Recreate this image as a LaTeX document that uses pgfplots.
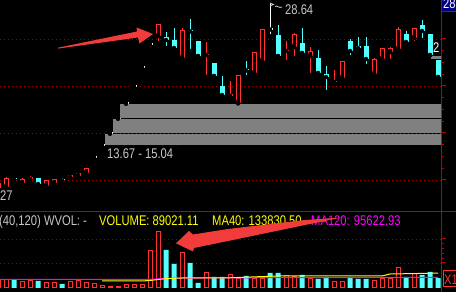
\documentclass[border=0pt]{standalone}
\usepackage{pgfplots}
\pgfplotsset{compat=1.18}
\usepackage{pgfplotstable}
\usepackage{fontspec}
\newfontfamily\cf[FakeStretch=0.8]{Liberation Sans}
\newcommand\tf{\cf\fontsize{14}{16}\selectfont}
\definecolor{cred}{HTML}{FF3232}
\definecolor{ccyan}{HTML}{54FFFF}
\definecolor{cgray}{HTML}{808080}
\definecolor{cdot}{HTML}{A00000}
\definecolor{caxis}{HTML}{C00000}
\definecolor{ctext}{HTML}{C8C8C8}
\definecolor{carrow}{HTML}{F23C3C}
\definecolor{cnavy}{HTML}{000080}
\definecolor{cyel}{HTML}{FFFF00}
\definecolor{cmag}{HTML}{FF00FF}

% price candles: k open high low close
\pgfplotstableread{
k o h l c
-1 10.14 10.74 10.04 10.64
0 10.24 11.24 10.14 11.14
2 10.64 11.14 10.60 11.04
5 10.34 10.98 10.24 10.94
6 10.64 11.08 10.60 11.04
9 11.34 11.68 11.24 11.64
10 11.64 12.18 11.60 12.14
19 25.34 26.58 24.64 26.54
22 23.14 26.14 23.10 25.94
29 18.64 21.48 18.60 21.44
31 21.64 23.78 21.24 23.74
32 22.84 26.08 22.80 26.04
36 24.24 25.64 23.14 25.54
38 23.34 24.24 21.44 23.84
42 21.14 22.88 20.94 22.84
46 21.54 23.14 21.24 23.04
47 23.04 24.18 22.64 24.14
48 23.74 24.24 22.84 24.14
49 24.04 26.24 23.74 26.04
51 25.14 26.18 24.64 26.14
}\redhollow
\pgfplotstableread{
k o h l c
3 11.04 11.34 11.04 11.24
8 11.24 11.48 11.14 11.44
25 23.44 24.74 21.24 23.58
28 19.34 20.84 19.30 19.54
35 23.84 24.84 22.74 23.98
41 20.74 21.94 20.64 20.88
}\redfilled
\pgfplotstableread{
k o h l c
1 11.14 11.16 10.74 10.99
4 11.14 11.16 10.44 10.54
7 11.04 11.14 10.74 10.89
20 25.24 25.74 24.14 24.94
21 24.94 26.14 23.74 24.14
23 25.94 27.04 23.84 25.79
24 24.84 24.86 23.32 23.34
26 22.64 22.66 21.32 21.34
27 20.34 21.34 19.34 19.44
30 22.04 22.84 21.24 21.89
34 25.44 26.44 23.32 23.34
37 24.64 26.14 23.62 23.64
39 23.14 23.94 21.62 21.64
40 21.54 22.34 19.74 21.24
43 24.84 25.04 23.24 23.84
44 24.34 25.24 23.74 24.14
45 24.34 25.24 22.34 23.04
50 25.54 25.84 24.64 24.74
52 26.44 26.94 24.94 25.84
53 25.54 25.56 23.42 23.44
54 22.94 22.96 21.22 21.24
}\cyancandle
\pgfplotstableread{
k o h l c
11 13.30 13.30 13.18 13.18
12 14.50 14.50 14.38 14.38
13 15.70 15.70 15.58 15.58
14 17.20 17.20 17.08 17.08
15 18.70 18.70 18.58 18.58
16 20.40 20.40 20.28 20.28
17 22.30 22.30 22.18 22.18
18 24.60 24.60 24.04 24.48
33 26.10 28.64 25.34 25.98
}\whitecandle
% volume
\pgfplotstableread{
k v
-1 72000
0 72000
2 54000
3 63000
5 45000
6 45000
8 54000
9 63000
10 45000
11 36000
12 18000
13 9000
14 9000
15 27000
16 27000
17 27000
18 333000
19 504000
22 315000
25 135000
28 117000
29 81000
31 81000
32 81000
35 108000
36 99000
38 81000
41 54000
42 54000
46 63000
47 81000
48 81000
49 180000
51 126000
}\volred
\pgfplotstableread{
k v
1 72000
4 63000
7 36000
20 342000
21 216000
23 225000
24 45000
26 99000
27 99000
30 108000
33 135000
34 135000
37 117000
39 81000
40 99000
43 99000
44 81000
45 81000
50 99000
52 117000
53 144000
54 89021
}\volcyan
\pgfplotstableread{
k m
-1 76500
17 76500
18 78000
19 83000
21 88000
25 90000
30 92000
40 94000
54 95623
}\maonetwenty
\pgfplotstableread{
k m
12 63000
17 63000
18 68000
19 76000
20 84000
22 90000
28 92000
34 108000
47 108000
48 126000
54 133831
}\mafourty

\pgfplotsset{
  common/.style={scale only axis, width=441pt, xmin=-0.75, xmax=54.375,
    axis x line=none, axis y line*=right,
    y axis line style={-, draw=caxis, line width=1pt},
    ytick style={draw=caxis, line width=1pt},
    tick align=outside, major tick length=5pt, minor tick length=2.5pt,
    yticklabels={}, scaled y ticks=false, ymajorgrids,
    major grid style={draw=cdot, line width=0.9pt, dash pattern=on 1pt off 3pt}},
  wick/.style={only marks, mark=none, error bars/.cd, y dir=plus, y explicit,
    error mark=none, error bar style={line width=1pt, draw=#1}},
  body/.style 2 args={only marks, mark=none, error bars/.cd, y dir=plus, y explicit,
    error mark=none, error bar style={line width=#2, draw=#1}},
}

\begin{document}
\begin{tikzpicture}[x=1pt,y=1pt]
\useasboundingbox (0,0) rectangle (456,292);
\fill[black] (0,0) rectangle (456,292);
\node[anchor=base west, inner sep=0, text=ctext, font=\tf] at (115,146) {15.04 - 16.55};

\begin{axis}[common, at={(0pt,80pt)}, anchor=south west, height=212pt,
  ymin=7.74, ymax=28.94, ytick={10.94,15.64,20.34,25.04}, minor y tick num=3]
% red hollow
\addplot[wick=cred] table[x=k, y=l, y error plus expr=\thisrow{h}-\thisrow{l}] {\redhollow};
\addplot[body={cred}{5pt}] table[x=k, y expr={min(\thisrow{o},\thisrow{c})}, y error plus expr={abs(\thisrow{c}-\thisrow{o})}] {\redhollow};
\addplot[body={black}{3pt}] table[x=k, y expr={min(\thisrow{o},\thisrow{c})+0.1}, y error plus expr={abs(\thisrow{c}-\thisrow{o})-0.2}] {\redhollow};
% red filled
\addplot[wick=cred] table[x=k, y=l, y error plus expr=\thisrow{h}-\thisrow{l}] {\redfilled};
\addplot[body={cred}{5pt}] table[x=k, y expr={min(\thisrow{o},\thisrow{c})}, y error plus expr={abs(\thisrow{c}-\thisrow{o})}] {\redfilled};
% cyan
\addplot[wick=ccyan] table[x=k, y=l, y error plus expr=\thisrow{h}-\thisrow{l}] {\cyancandle};
\addplot[body={ccyan}{5pt}] table[x=k, y expr={min(\thisrow{o},\thisrow{c})}, y error plus expr={abs(\thisrow{c}-\thisrow{o})}] {\cyancandle};
% white
\addplot[wick=white] table[x=k, y=l, y error plus expr=\thisrow{h}-\thisrow{l}] {\whitecandle};
\addplot[body={white}{5pt}] table[x=k, y expr={min(\thisrow{o},\thisrow{c})}, y error plus expr={abs(\thisrow{c}-\thisrow{o})}] {\whitecandle};
% chip distribution bars
\addplot[fill=cgray, draw=none] coordinates {(14.25,18.54) (54.5,18.54) (54.5,17.14) (14.25,17.14)};
\addplot[fill=cgray, draw=none] coordinates {(13.375,17.04) (54.5,17.04) (54.5,15.64) (13.375,15.64)};
\addplot[fill=cgray, draw=none] coordinates {(12.375,15.54) (54.5,15.54) (54.5,14.44) (12.375,14.44)};
\addplot[fill=cgray, draw=none] coordinates {(53.125,23.34) (54.5,23.34) (54.5,23.04) (53.125,23.04)};
\end{axis}

\begin{axis}[common, at={(0pt,0pt)}, anchor=south west, height=80pt,
  ymin=-36000, ymax=684000, ytick={225000,441000}, minor y tick num=4]
\addplot[ybar, bar width=4pt, bar shift=0pt, draw=cred, line width=1pt, fill=black] table[x=k, y=v] {\volred};
\addplot[ybar, bar width=5pt, bar shift=0pt, draw=none, fill=ccyan] table[x=k, y=v] {\volcyan};
\addplot[cmag, line width=1pt] table[x=k, y=m] {\maonetwenty};
\addplot[cyel, line width=1pt] table[x=k, y=m] {\mafourty};
\end{axis}

% panel separators and boxes
\draw[caxis, line width=1pt] (0,80) -- (456,80);
\fill[cnavy] (441.5,280.5) rectangle (456,292);
\draw[caxis, line width=0.8pt] (441.5,280.5) -- (456,280.5);
\node[anchor=base west, inner sep=0, text=white, font=\tf] at (443,283.5) {28};
\draw[cred, line width=1pt] (443.5,5) rectangle (456.5,21);
\node[anchor=base west, inner sep=0, text=cred, font=\tf] at (444,7.5) {X1};

% texts
\node[anchor=base west, inner sep=0, text=ctext, font=\tf] at (285,277) {28.64};
\draw[ctext, line width=0.8pt] (270,289) -- (273.5,287.5) -- (270,286);
\draw[ctext, line width=0.8pt] (275,285.5) .. controls (277,287.5) and (279,283) .. (282,285);
\node[anchor=base west, inner sep=0, text=ctext, font=\tf] at (107,133) {13.67 - 15.04};
\node[anchor=base west, inner sep=0, text=ctext, font=\tf] at (0,91.5) {27};
\node[anchor=base west, inner sep=0, text=white, font=\tf] at (433,239) {2};
\node[anchor=base west, inner sep=0, text=ctext, font=\tf] at (-1,66) {(40,120) WVOL: -};
\node[anchor=base west, inner sep=0, text=cyel, font=\tf] at (99,66) {VOLUME: 89021.11};
\node[anchor=base west, inner sep=0, text=cyel, font=\tf] at (212,66) {MA40: 133830.50};
\node[anchor=base west, inner sep=0, text=cmag, font=\tf] at (311,66) {MA120: 95622.93};

% annotation arrows
\fill[carrow] (58,244.3) -- (137,260.5) -- (136.5,264.5) -- (153,258) -- (139.5,248.5) -- (138,254.5) -- (58,243.4) -- cycle;
\fill[carrow] (342,74.5) -- (305,72) -- (228,63) -- (193,57.5) -- (189,61) -- (176,48.7) -- (193,40.5) -- (194,44) -- (228,51) -- (305,67) -- cycle;
\end{tikzpicture}
\end{document}
